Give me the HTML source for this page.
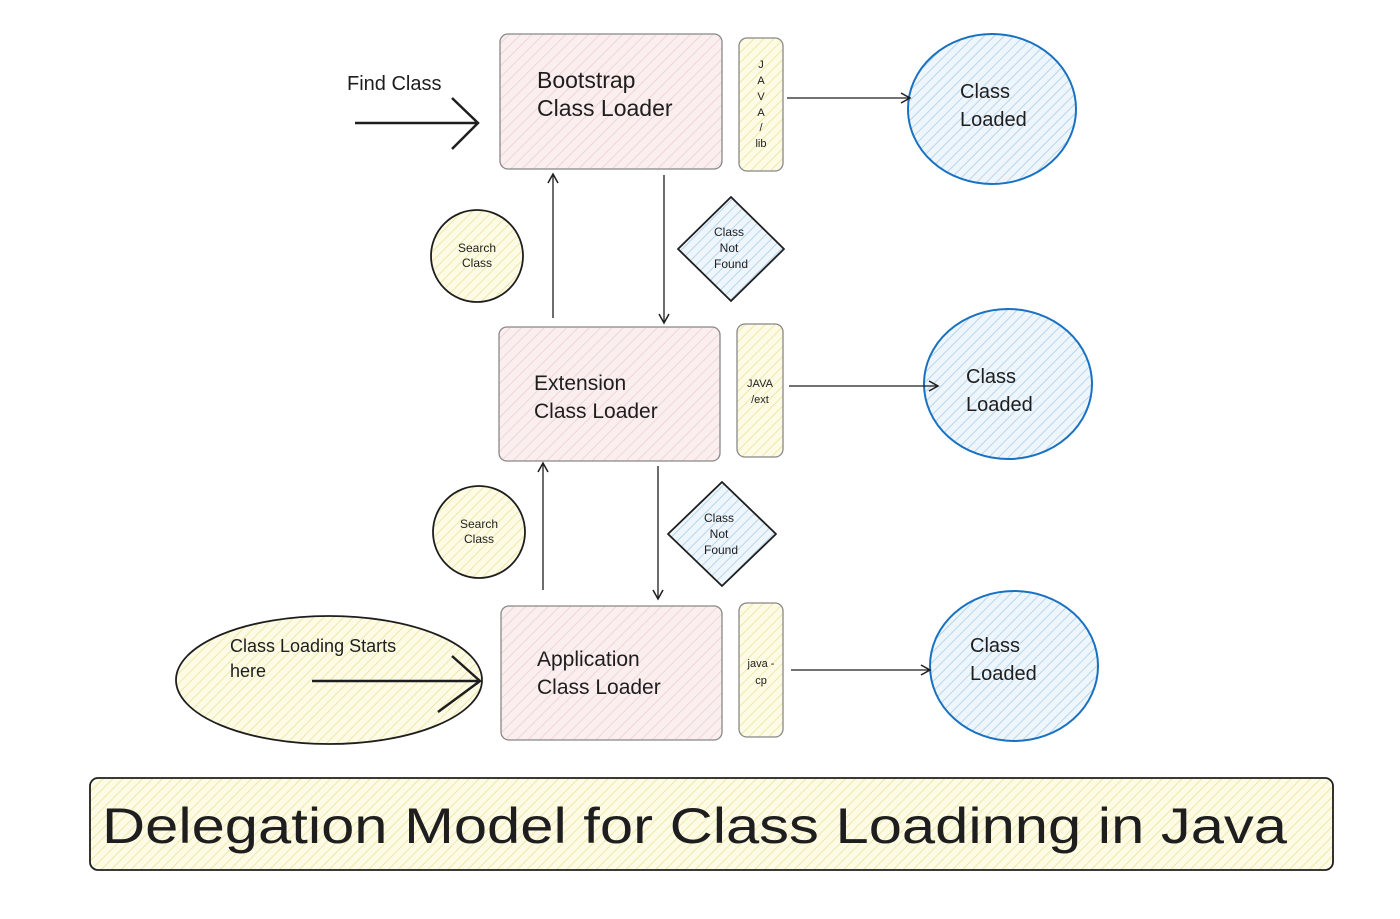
<!DOCTYPE html>
<html><head><meta charset="utf-8"><style>
html,body{margin:0;padding:0;background:#fff;}
svg{display:block;}
text{font-family:"Liberation Sans",sans-serif;fill:#1e1e1e;}
</style></head><body>
<svg width="1400" height="919" viewBox="0 0 1400 919" xmlns="http://www.w3.org/2000/svg">
<defs>
<pattern id="pk" width="8" height="8" patternUnits="userSpaceOnUse" patternTransform="rotate(45)"><rect width="8" height="8" fill="#fbeeee"/><line x1="0" y1="0" x2="0" y2="8" stroke="#f0d6d6" stroke-width="2"/></pattern>
<pattern id="yl" width="7" height="7" patternUnits="userSpaceOnUse" patternTransform="rotate(45)"><rect width="7" height="7" fill="#fdfbe6"/><line x1="0" y1="0" x2="0" y2="7" stroke="#efe8a8" stroke-width="2"/></pattern>
<pattern id="bl" width="7" height="7" patternUnits="userSpaceOnUse" patternTransform="rotate(45)"><rect width="7" height="7" fill="#eef6fc"/><line x1="0" y1="0" x2="0" y2="7" stroke="#b7d6ee" stroke-width="2"/></pattern>
<marker id="ah" markerWidth="12" markerHeight="12" refX="10" refY="6" orient="auto" markerUnits="userSpaceOnUse"><path d="M1,1 L10,6 L1,11" fill="none" stroke="#1e1e1e" stroke-width="1.5"/></marker>
</defs>
<g stroke="#1e1e1e" stroke-width="1.3">
<rect x="500" y="34" width="222" height="135" rx="8" fill="url(#pk)" stroke="#888"/>
<rect x="739" y="38" width="44" height="133" rx="8" fill="url(#yl)" stroke="#888"/>
<rect x="499" y="327" width="221" height="134" rx="8" fill="url(#pk)" stroke="#888"/>
<rect x="737" y="324" width="46" height="133" rx="8" fill="url(#yl)" stroke="#888"/>
<rect x="501" y="606" width="221" height="134" rx="8" fill="url(#pk)" stroke="#888"/>
<rect x="739" y="603" width="44" height="134" rx="8" fill="url(#yl)" stroke="#888"/>
<ellipse cx="992" cy="109" rx="84" ry="75" fill="url(#bl)" stroke="#1971c2" stroke-width="2"/>
<ellipse cx="1008" cy="384" rx="84" ry="75" fill="url(#bl)" stroke="#1971c2" stroke-width="2"/>
<ellipse cx="1014" cy="666" rx="84" ry="75" fill="url(#bl)" stroke="#1971c2" stroke-width="2"/>
<circle cx="477" cy="256" r="46" fill="url(#yl)" stroke-width="1.8"/>
<circle cx="479" cy="532" r="46" fill="url(#yl)" stroke-width="1.8"/>
<path d="M731,197 L784,249 L731,301 L678,249 Z" fill="url(#bl)" stroke-width="1.8" stroke-linejoin="round"/>
<path d="M722,482 L776,534 L722,586 L668,534 Z" fill="url(#bl)" stroke-width="1.8" stroke-linejoin="round"/>
<ellipse cx="329" cy="680" rx="153" ry="64" fill="url(#yl)" stroke-width="1.8"/>
<rect x="90" y="778" width="1243" height="92" rx="8" fill="url(#yl)" stroke-width="1.8"/>
<line x1="787" y1="98" x2="910" y2="98" marker-end="url(#ah)"/>
<line x1="789" y1="386" x2="938" y2="386" marker-end="url(#ah)"/>
<line x1="791" y1="670" x2="930" y2="670" marker-end="url(#ah)"/>
<line x1="553" y1="318" x2="553" y2="174" marker-end="url(#ah)"/>
<line x1="664" y1="175" x2="664" y2="323" marker-end="url(#ah)"/>
<line x1="543" y1="590" x2="543" y2="463" marker-end="url(#ah)"/>
<line x1="658" y1="466" x2="658" y2="599" marker-end="url(#ah)"/>
<path d="M355,123 L478,123 M452,98 L478,123 L452,149" fill="none" stroke-width="2.5"/>
<path d="M312,681 L480,681 M452,656 L480,681 L438,712" fill="none" stroke-width="2.5"/>
</g>
<text x="347" y="90" font-size="20">Find Class</text>
<text x="537" y="88" font-size="23">Bootstrap</text>
<text x="537" y="116" font-size="23">Class Loader</text>
<text x="534" y="390" font-size="21">Extension</text>
<text x="534" y="418" font-size="21">Class Loader</text>
<text x="537" y="666" font-size="21">Application</text>
<text x="537" y="694" font-size="21">Class Loader</text>
<g font-size="11" text-anchor="middle"><text x="761" y="68">J</text><text x="761" y="84">A</text><text x="761" y="100">V</text><text x="761" y="116">A</text><text x="761" y="131">/</text><text x="761" y="147">lib</text></g>
<text x="760" y="387" font-size="11" text-anchor="middle">JAVA</text>
<text x="760" y="403" font-size="11" text-anchor="middle">/ext</text>
<text x="761" y="667" font-size="11" text-anchor="middle">java -</text>
<text x="761" y="684" font-size="11" text-anchor="middle">cp</text>
<g font-size="20"><text x="960" y="98">Class</text><text x="960" y="126">Loaded</text>
<text x="966" y="383">Class</text><text x="966" y="411">Loaded</text>
<text x="970" y="652">Class</text><text x="970" y="680">Loaded</text></g>
<g font-size="12" text-anchor="middle"><text x="477" y="252">Search</text><text x="477" y="267">Class</text>
<text x="479" y="528">Search</text><text x="479" y="543">Class</text>
<text x="729" y="236">Class</text><text x="729" y="252">Not</text><text x="731" y="268">Found</text>
<text x="719" y="522">Class</text><text x="719" y="538">Not</text><text x="721" y="554">Found</text></g>
<text x="230" y="652" font-size="18">Class Loading Starts</text>
<text x="230" y="677" font-size="18">here</text>
<text x="102" y="843" font-size="50" textLength="1185" lengthAdjust="spacingAndGlyphs">Delegation Model for Class Loadinng in Java</text>
</svg>
</body></html>
